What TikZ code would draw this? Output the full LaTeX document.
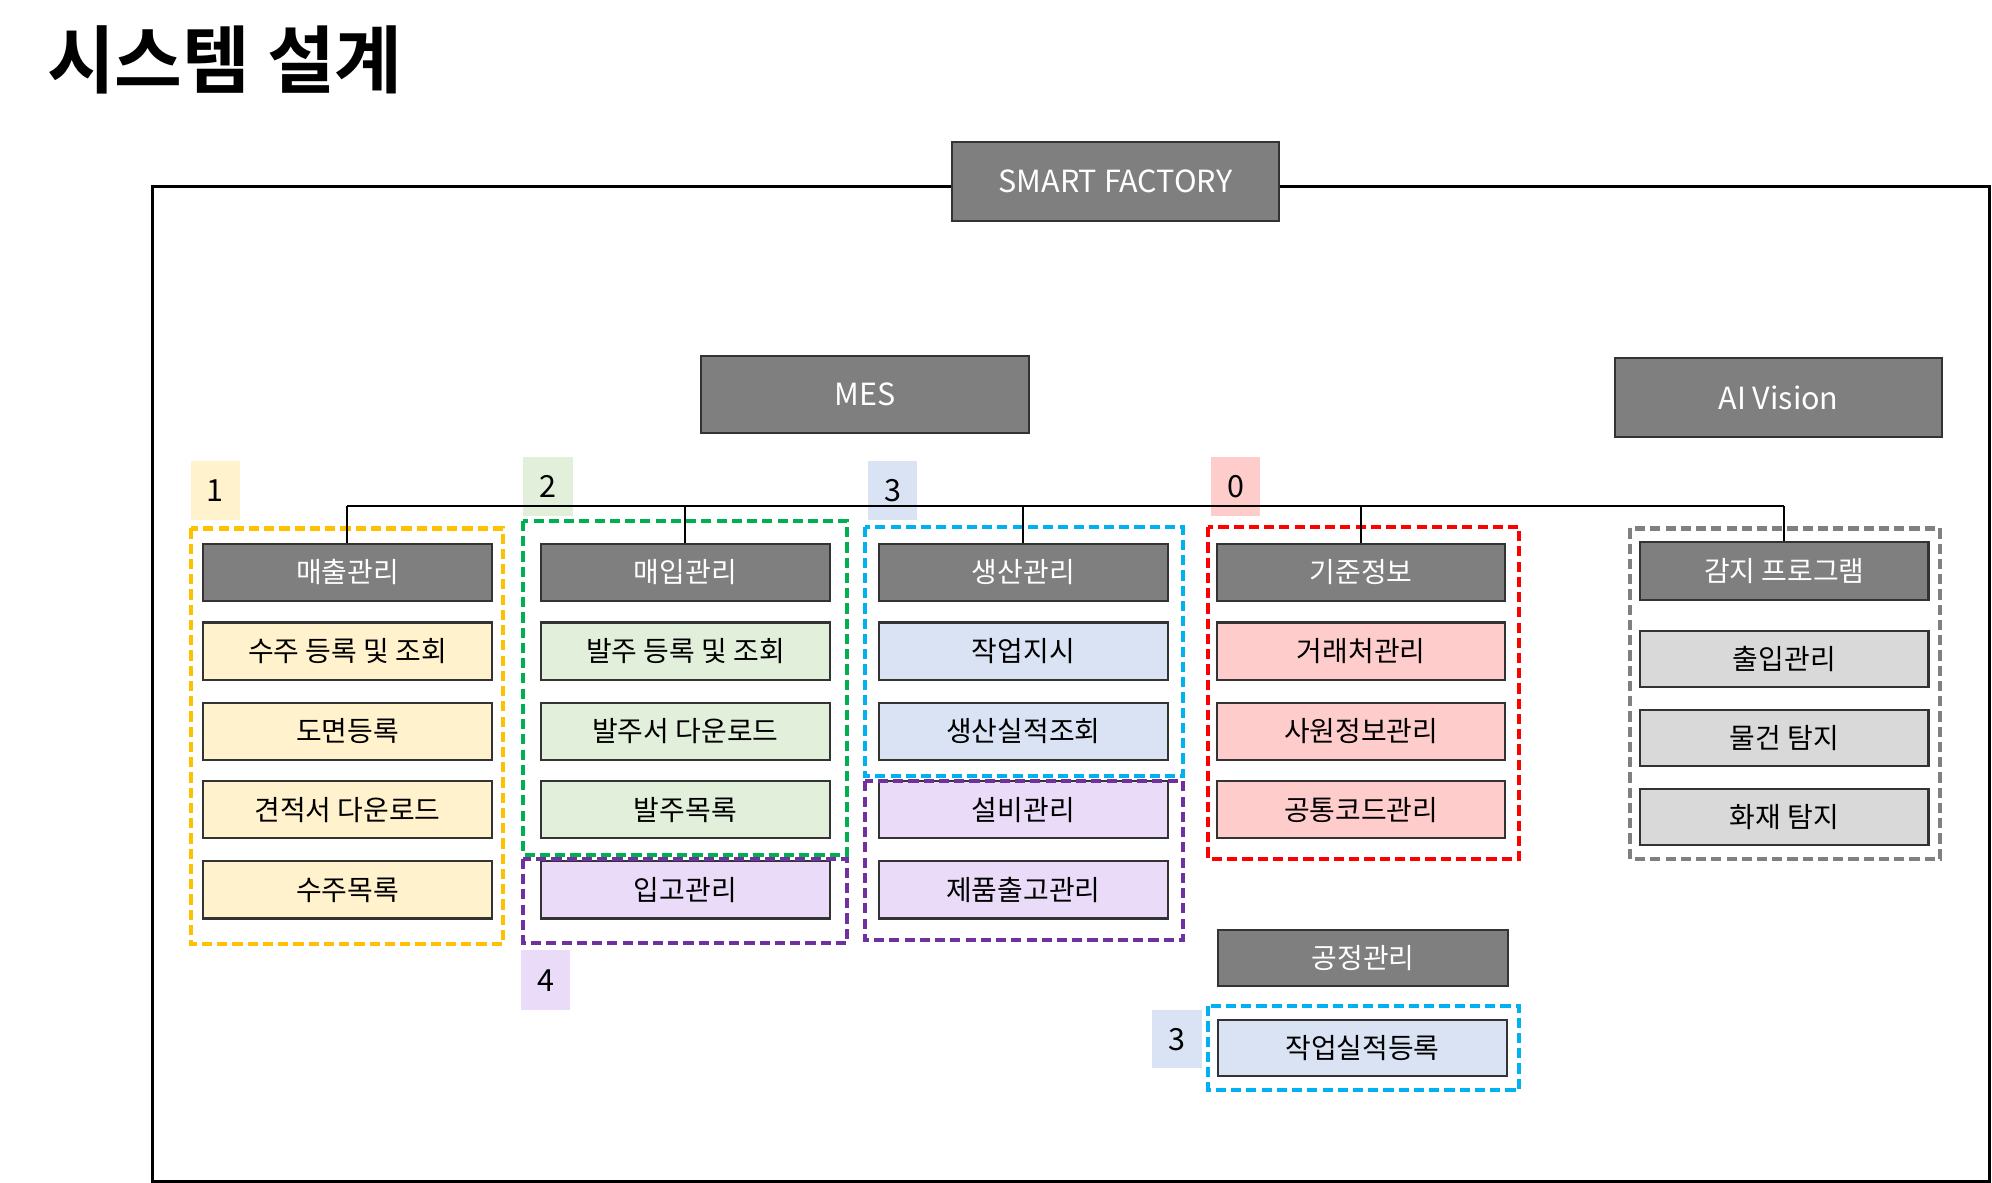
\documentclass[tikz,border=0pt]{standalone}
\usepackage{fontspec}
\setmainfont{Noto Sans CJK KR}
\newfontfamily\boldkr[BoldFont={* Bold}]{Noto Sans CJK KR}
\definecolor{hd}{HTML}{7F7F7F}
\definecolor{yf}{HTML}{FFF2CC}\definecolor{yb}{HTML}{FFC000}
\definecolor{gf}{HTML}{E2EFDA}\definecolor{gb}{HTML}{00B050}
\definecolor{bf}{HTML}{DAE3F3}\definecolor{bb}{HTML}{00B0F0}
\definecolor{pf}{HTML}{EADCF8}\definecolor{pb}{HTML}{7030A0}
\definecolor{rf}{HTML}{FFCCCC}\definecolor{rb}{HTML}{FF0000}
\definecolor{sf}{HTML}{D9D9D9}\definecolor{sb}{HTML}{808080}
\newcommand\B[7]{\node[#6,minimum width={(#4-#2)*0.5pt},minimum height={(#5-#3)*0.5pt}] (#1) at ({(#2+#4)/2},{(#3+#5)/2}) {#7};}
\newcommand\G[6]{\draw[grp,#6] (#2,#3) rectangle (#4,#5) coordinate (#1);}
\begin{document}
\begin{tikzpicture}[x=0.5pt,y=-0.5pt,
 box/.style={draw=black!80,line width=0.8pt,inner sep=0pt,font=\fontsize{11}{13}\selectfont},
 hdr/.style={box,fill=hd,text=white},
 tag/.style={inner sep=0pt,font=\fontsize{12}{14}\selectfont},
 grp/.style={dashed,line width=1.6pt,dash pattern=on 4pt off 2pt}]
\useasboundingbox (0,0) rectangle (1568,931);
\node[anchor=west,font=\boldkr\bfseries\fontsize{29}{32}\selectfont] (title) at (30,47) {시스템 설계};
\draw[line width=1pt] (120,147) rectangle (1566,930);
\B{sf}{749}{112}{1007}{174}{hdr,font=\fontsize{12}{14}\selectfont}{SMART FACTORY}
\B{mes}{552}{280}{810}{341}{hdr,font=\fontsize{12}{14}\selectfont}{MES}
\B{ai}{1271}{282}{1529}{344}{hdr,font=\fontsize{12}{14}\selectfont}{AI Vision}
% tags
\B{t1}{150}{363}{189}{409}{tag,fill=yf}{1}
\B{t2}{412}{360}{451}{406}{tag,fill=gf}{2}
\B{t3}{683}{363}{722}{409}{tag,fill=bf}{3}
\B{t0}{953}{360}{992}{406}{tag,fill=rf}{0}
\B{t4}{410}{748}{449}{795}{tag,fill=pf}{4}
\B{t5}{907}{795}{946}{841}{tag,fill=bf}{3}
% column 1
\B{h1}{160}{428}{387}{473}{hdr}{매출관리}
\B{a1}{160}{490}{387}{535}{box,fill=yf}{수주 등록 및 조회}
\B{a2}{160}{553}{387}{598}{box,fill=yf}{도면등록}
\B{a3}{160}{615}{387}{660}{box,fill=yf}{견적서 다운로드}
\B{a4}{160}{678}{387}{723}{box,fill=yf}{수주목록}
% column 2
\B{h2}{426}{428}{653}{473}{hdr}{매입관리}
\B{b1}{426}{490}{653}{535}{box,fill=gf}{발주 등록 및 조회}
\B{b2}{426}{553}{653}{598}{box,fill=gf}{발주서 다운로드}
\B{b3}{426}{615}{653}{660}{box,fill=gf}{발주목록}
\B{b4}{426}{678}{653}{723}{box,fill=pf}{입고관리}
% column 3
\B{h3}{692}{428}{919}{473}{hdr}{생산관리}
\B{c1}{692}{490}{919}{535}{box,fill=bf}{작업지시}
\B{c2}{692}{553}{919}{598}{box,fill=bf}{생산실적조회}
\B{c3}{692}{615}{919}{660}{box,fill=pf}{설비관리}
\B{c4}{692}{678}{919}{723}{box,fill=pf}{제품출고관리}
% column 4
\B{h4}{958}{428}{1185}{473}{hdr}{기준정보}
\B{d1}{958}{490}{1185}{535}{box,fill=rf}{거래처관리}
\B{d2}{958}{553}{1185}{598}{box,fill=rf}{사원정보관리}
\B{d3}{958}{615}{1185}{660}{box,fill=rf}{공통코드관리}
\B{p1}{959}{732}{1187}{776}{hdr}{공정관리}
\B{p2}{959}{803}{1186}{847}{box,fill=bf}{작업실적등록}
% column 5
\B{h5}{1291}{427}{1518}{472}{hdr}{감지 프로그램}
\B{e1}{1291}{497}{1518}{541}{box,fill=sf}{출입관리}
\B{e2}{1291}{559}{1518}{603}{box,fill=sf}{물건 탐지}
\B{e3}{1291}{621}{1518}{665}{box,fill=sf}{화재 탐지}
% groups
\G{g1}{150}{416}{396}{743}{yb}
\G{g2}{412}{410}{667}{673}{gb}
\G{g3}{412}{676}{667}{742}{pb}
\G{g4}{681}{415}{931}{611}{bb}
\G{g5}{681}{615}{931}{740}{pb}
\G{g6}{951}{415}{1196}{676}{rb}
\G{g7}{1283}{416}{1527}{676}{sb}
\G{g8}{951}{792}{1196}{858}{bb}
% connectors
\coordinate (L) at (273,398); \coordinate (R) at (1404,398);
\draw[line width=0.8pt] (L) -- (R);
\foreach \n in {h1,h2,h3,h4,h5} \draw[line width=0.8pt] (\n.north) -- (\n.north |- L);
\end{tikzpicture}
\end{document}
